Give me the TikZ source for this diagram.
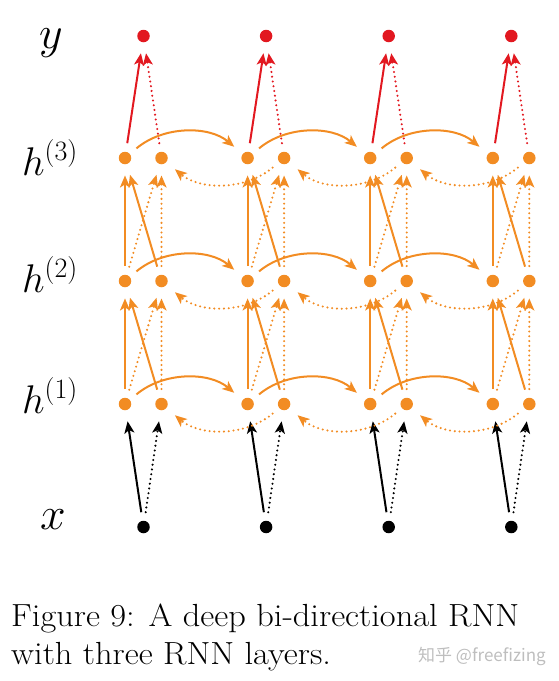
\documentclass[tikz,border=0pt]{standalone}
\usepackage{fix-cm}
\usepackage{fontspec}
\newfontfamily\cjk{Noto Sans CJK SC}
\usetikzlibrary{arrows.meta}
\definecolor{rnnorange}{RGB}{242,140,35}
\definecolor{rnnred}{RGB}{226,24,32}
\definecolor{wmgray}{RGB}{190,190,190}
\tikzset{
  dotnode/.style={circle,inner sep=0pt,minimum size=12.5pt,fill=#1},
  conn/.style={line width=2pt,-{Stealth[length=12pt,width=10pt,inset=3pt]},shorten >=11pt,shorten <=8.5pt},
  dotted line/.style={dash pattern=on 0pt off 4.8pt,line cap=round,line width=2.3pt},
  curv/.style={conn,bend left=40},
  lbl/.style={anchor=base west,inner sep=0pt,font=\fontsize{40}{48}\selectfont},
  biglbl/.style={anchor=base west,inner sep=0pt,font=\fontsize{46}{54}\selectfont},
  captext/.style={anchor=base west,inner sep=0pt,font=\fontsize{32}{38}\selectfont},
}
\begin{document}
\begin{tikzpicture}[x=1pt,y=-1pt]
\useasboundingbox (0,0) rectangle (559,681);
% nodes
\foreach \i in {0,...,3} {
  \pgfmathsetmacro\xc{143.5+122.6*\i}
  \pgfmathsetmacro\xf{125+122.6*\i}
  \pgfmathsetmacro\xb{161.5+122.6*\i}
  \node[dotnode=black] (x\i) at (\xc,527) {};
  \node[dotnode=rnnred] (y\i) at (\xc,36) {};
  \foreach \L/\yy in {1/404,2/281,3/158} {
    \node[dotnode=rnnorange] (f\L\i) at (\xf,\yy) {};
    \node[dotnode=rnnorange] (b\L\i) at (\xb,\yy) {};
  }
}
% input connections
\foreach \i in {0,...,3} {
  \draw[conn,black] (x\i) -- (f1\i);
  \draw[conn,black,dotted line] (x\i) -- (b1\i);
  \foreach \L/\M in {1/2,2/3} {
    \draw[conn,rnnorange] (f\L\i) -- (f\M\i);
    \draw[conn,rnnorange] (b\L\i) -- (f\M\i);
    \draw[conn,rnnorange,dotted line] (f\L\i) -- (b\M\i);
    \draw[conn,rnnorange,dotted line] (b\L\i) -- (b\M\i);
  }
  \draw[conn,rnnred] (f3\i) -- (y\i);
  \draw[conn,rnnred,dotted line] (b3\i) -- (y\i);
}
% recurrent connections
\foreach \i/\j in {0/1,1/2,2/3} {
  \foreach \L in {1,2,3} {
    \draw[curv,rnnorange] (f\L\i) to (f\L\j);
    \draw[curv,rnnorange,dotted line] (b\L\j) to (b\L\i);
  }
}
% labels
\node[biglbl] (ly) at (39,48) {$y$};
\node[lbl] (lh3) at (22,175) {$h^{(3)}$};
\node[lbl] (lh2) at (22,292) {$h^{(2)}$};
\node[lbl] (lh1) at (22,413) {$h^{(1)}$};
\node[biglbl] (lx) at (40,529) {$x$};
% caption
\node[captext] (c1) at (11,626.7) {\scalebox{1.075}[1]{Figure 9: A deep bi-directional RNN}};
\node[captext] (c2) at (11,664) {\scalebox{1.075}[1]{with three RNN layers.}};
\node[anchor=base west,inner sep=0pt,text=wmgray,font=\cjk\fontsize{17}{20}\selectfont] (wm) at (418,661) {知乎 @freefizing};
\end{tikzpicture}
\end{document}
